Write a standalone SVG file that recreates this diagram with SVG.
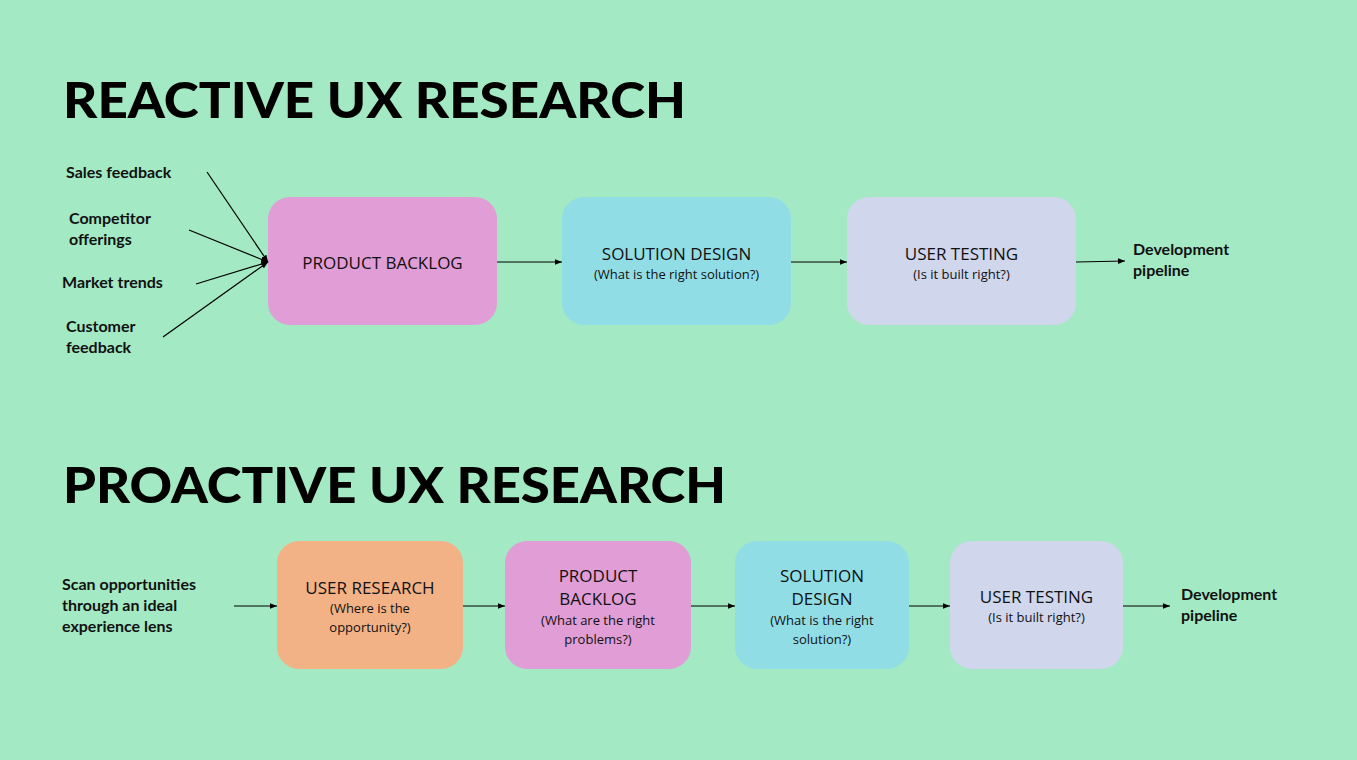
<svg xmlns="http://www.w3.org/2000/svg" width="1357" height="760" viewBox="0 0 1357 760">
<defs>
<marker id="ah" viewBox="0 0 10 10" refX="10" refY="5" markerWidth="7" markerHeight="7" orient="auto" markerUnits="userSpaceOnUse"><path d="M0,1 L10,5 L0,9 z" fill="#000"/></marker>
<style>
.t{font-family:Lato,"Liberation Sans",sans-serif;font-weight:900;font-size:50px;fill:#000}
.l{font-family:Lato,"Liberation Sans",sans-serif;font-weight:700;font-size:16px;fill:#111}
.b{font-family:"Open Sans","Liberation Sans",sans-serif;font-size:17px;fill:#111;text-anchor:middle}
.s{font-family:"Open Sans","Liberation Sans",sans-serif;font-size:13px;fill:#111;text-anchor:middle}
.c{stroke:#000;stroke-width:1.2;fill:none;marker-end:url(#ah)}
</style>
</defs>
<rect width="1357" height="760" fill="#A3E9C3"/>
<text class="t" x="63" y="118" textLength="623" lengthAdjust="spacingAndGlyphs">REACTIVE UX RESEARCH</text>
<text class="t" x="63" y="503" textLength="663" lengthAdjust="spacingAndGlyphs">PROACTIVE UX RESEARCH</text>
<g id="labels">
<text class="l" x="66" y="178">Sales feedback</text>
<text class="l" x="69" y="224">Competitor</text><text class="l" x="69" y="245">offerings</text>
<text class="l" x="62" y="288">Market trends</text>
<text class="l" x="66" y="332">Customer</text><text class="l" x="66" y="353">feedback</text>
<text class="l" x="1133" y="255">Development</text><text class="l" x="1133" y="276">pipeline</text>
<text class="l" x="62" y="590">Scan opportunities</text><text class="l" x="62" y="611">through an ideal</text><text class="l" x="62" y="632">experience lens</text>
<text class="l" x="1181" y="600">Development</text><text class="l" x="1181" y="621">pipeline</text>
</g>
<g id="n1"><rect x="268" y="197" width="229" height="128" rx="22" fill="#E19DD5"/><text class="b" x="382.5" y="269">PRODUCT BACKLOG</text></g>
<g id="n2"><rect x="562" y="197" width="229" height="128" rx="22" fill="#91DDE6"/><text class="b" x="676.5" y="260">SOLUTION DESIGN</text><text class="s" x="676.5" y="279">(What is the right solution?)</text></g>
<g id="n3"><rect x="847" y="197" width="229" height="128" rx="22" fill="#D0D6EC"/><text class="b" x="961.5" y="260">USER TESTING</text><text class="s" x="961.5" y="279">(Is it built right?)</text></g>
<g id="m1"><rect x="277" y="541" width="186" height="128" rx="22" fill="#F3B286"/><text class="b" x="370" y="594">USER RESEARCH</text><text class="s" x="370" y="613">(Where is the</text><text class="s" x="370" y="632">opportunity?)</text></g>
<g id="m2"><rect x="505" y="541" width="186" height="128" rx="22" fill="#E19DD5"/><text class="b" x="598" y="582">PRODUCT</text><text class="b" x="598" y="605">BACKLOG</text><text class="s" x="598" y="625">(What are the right</text><text class="s" x="598" y="644">problems?)</text></g>
<g id="m3"><rect x="735" y="541" width="174" height="128" rx="22" fill="#91DDE6"/><text class="b" x="822" y="582">SOLUTION</text><text class="b" x="822" y="605">DESIGN</text><text class="s" x="822" y="625">(What is the right</text><text class="s" x="822" y="644">solution?)</text></g>
<g id="m4"><rect x="950" y="541" width="173" height="128" rx="22" fill="#D0D6EC"/><text class="b" x="1036.5" y="603">USER TESTING</text><text class="s" x="1036.5" y="622">(Is it built right?)</text></g>
<g id="connectors">
<path class="c" d="M207,172 L268,262"/>
<path class="c" d="M189,230 L268,262"/>
<path class="c" d="M196,284 L268,262"/>
<path class="c" d="M163,337 L268,262"/>
<path class="c" d="M497,262 L562,262"/>
<path class="c" d="M791,262 L847,262"/>
<path class="c" d="M1076,262 L1125,261"/>
<path class="c" d="M234,606 L277,606"/>
<path class="c" d="M463,606 L505,606"/>
<path class="c" d="M691,606 L735,606"/>
<path class="c" d="M909,606 L950,606"/>
<path class="c" d="M1123,606 L1170,606"/>
</g>
</svg>
